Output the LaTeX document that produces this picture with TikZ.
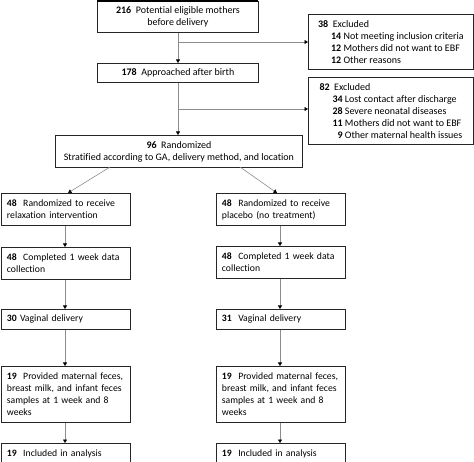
\documentclass[tikz,border=0pt]{standalone}
\usepackage{fontspec}
\setmainfont{Carlito}[Ligatures=NoCommon]
\usetikzlibrary{arrows.meta}
\newcommand{\nohyph}{\hyphenpenalty=10000\relax}
\begin{document}
\begin{tikzpicture}[x=1pt,y=-1pt,
  box/.style={draw=black!85, line width=0.9pt, anchor=north west, inner sep=0pt, font=\fontsize{10}{12}\selectfont},
  lbox/.style={box, align=left, text width=#1, inner xsep=5.5pt, font=\fontsize{9.7}{12}\selectfont\nohyph},
  cbox/.style={box, align=center},
  conn/.style={draw=black!45, line width=0.6pt, -{Triangle[width=4pt,length=3.5pt,black]}}]
\useasboundingbox (0,0) rectangle (474,462);
% top
\node[cbox, minimum width=161pt, minimum height=31.5pt] (top) at (97,0.8)
  {\textbf{216}\ \ Potential eligible mothers\\before delivery};
\draw[black, line width=1.6pt] (97,0.8) -- (258,0.8);
\node[box, align=left, minimum width=165pt, minimum height=55pt, inner xsep=7pt] (ex1) at (308,14)
  {\textbf{38}\ \ Excluded\\%
\hspace*{13pt}\textbf{14} Not meeting inclusion criteria\\%
\hspace*{13pt}\textbf{12} Mothers did not want to EBF\\%
\hspace*{13pt}\textbf{12} Other reasons};
\node[cbox, minimum width=161pt, minimum height=19pt] (b2) at (97,63)
  {\textbf{178}\ \ Approached after birth};
\node[box, align=left, minimum width=165pt, minimum height=67pt, inner xsep=7pt] (ex2) at (308,77)
  {\textbf{82}\ \ Excluded\\%
\hspace*{13pt}\textbf{34} Lost contact after discharge\\%
\hspace*{13pt}\textbf{28} Severe neonatal diseases\\%
\hspace*{13pt}\textbf{11} Mothers did not want to EBF\\%
\hspace*{13pt}\hphantom{\textbf{1}}\textbf{9} Other maternal health issues};
\node[cbox, minimum width=247pt, minimum height=32pt] (b3) at (55,135)
  {\textbf{96}\ \ Randomized\\Stratified according to GA, delivery method, and location};
% left column
\node[lbox=118pt, minimum height=32pt] (l1) at (1,193)
  {\textbf{48}\ \ Randomized to receive\\relaxation intervention};
\node[lbox=118pt, minimum height=32pt] (l2) at (1,247)
  {\textbf{48}\ \ Completed 1 week data\\collection};
\node[lbox=118pt, minimum height=20pt] (l3) at (1,309)
  {\textbf{30} Vaginal delivery};
\node[lbox=118pt, minimum height=56pt] (l4) at (1,366)
  {\textbf{19}\ \ Provided maternal feces,\\breast milk, and infant feces\\samples at 1 week and 8\\weeks};
\node[lbox=118pt, minimum height=21pt] (l5) at (1,443)
  {\textbf{19}\ \ Included in analysis};
% right column
\node[lbox=118pt, minimum height=32pt] (r1) at (216,193)
  {\textbf{48}\ \ Randomized to receive\\placebo (no treatment)};
\node[lbox=118pt, minimum height=32pt] (r2) at (216,246)
  {\textbf{48}\ \ Completed 1 week data\\collection};
\node[lbox=118pt, minimum height=20pt] (r3) at (216,309)
  {\textbf{31}\ \ Vaginal delivery};
\node[lbox=118pt, minimum height=56pt] (r4) at (216,366)
  {\textbf{19}\ \ Provided maternal feces,\\breast milk, and infant feces\\samples at 1 week and 8\\weeks};
\node[lbox=118pt, minimum height=21pt] (r5) at (216,443)
  {\textbf{19}\ \ Included in analysis};
% connectors
\coordinate (j1) at (178,42);
\coordinate (j2) at (178,109);
\draw[conn] (top.south -| j1) -- (b2.north -| j1);
\draw[conn] (j1) -- (j1 -| ex1.west);
\draw[conn] (b2.south -| j2) -- (b3.north -| j2);
\draw[conn] (j2) -- (j2 -| ex2.west);
\coordinate (d1) at (110,167);
\coordinate (d2) at (240,167);
\draw[conn] (d1) -- (68,193);
\draw[conn] (d2) -- (277,193);
\coordinate (lc) at (65,0);
\coordinate (rc) at (280,0);
\draw[conn] (l1.south -| lc) -- (l2.north -| lc);
\draw[conn] (l2.south -| lc) -- (l3.north -| lc);
\draw[conn] (l3.south -| lc) -- (l4.north -| lc);
\draw[conn] (l4.south -| lc) -- (l5.north -| lc);
\draw[conn] (r1.south -| rc) -- (r2.north -| rc);
\draw[conn] (r2.south -| rc) -- (r3.north -| rc);
\draw[conn] (r3.south -| rc) -- (r4.north -| rc);
\draw[conn] (r4.south -| rc) -- (r5.north -| rc);
\end{tikzpicture}
\end{document}
